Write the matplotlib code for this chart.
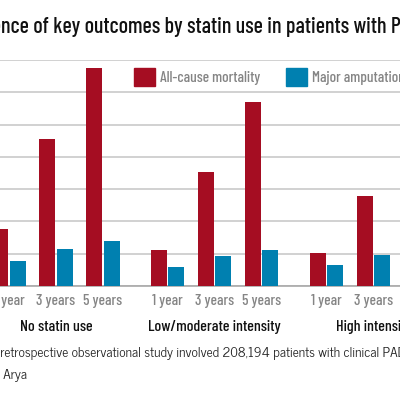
import matplotlib
matplotlib.use("Agg")
import matplotlib.pyplot as plt
from matplotlib.patches import Rectangle
import numpy as np

groups = ["No statin use", "Low/moderate intensity", "High intensity"]
years = ["1 year", "3 years", "5 years"]
mortality = [[8.9, 22.8, 33.8], [5.6, 17.6, 28.5], [5.1, 13.9, 22.0]]
amputation = [[3.9, 5.7, 6.9], [3.0, 4.6, 5.6], [3.2, 4.8, 5.6]]
series_names = ["All-cause mortality", "Major amputation"]
title = "Incidence of key outcomes by statin use in patients with PAD"
note = "Note: The retrospective observational study involved 208,194 patients with clinical PAD."
source = "Source: Dr. Arya"

RED = "#A50D22"
BLUE = "#0080B0"
COND = ["Barlow Condensed", "Roboto Condensed", "DejaVu Sans"]
BODY = ["News Cycle", "DejaVu Sans"]
plt.rcParams["font.family"] = COND

W = H = 400
fig = plt.figure(figsize=(4, 4), dpi=100)
renderer = fig.canvas.get_renderer()


def fit(sample, target_px, **kw):
    t = fig.text(0, 0, sample, fontsize=10, **kw)
    w = t.get_window_extent(renderer).width
    t.remove()
    return 10 * target_px / w


def width(sample, **kw):
    t = fig.text(0, 0, sample, **kw)
    w = t.get_window_extent(renderer).width
    t.remove()
    return w


def ypx(y):
    return (H - y) / H


# axes (the picture is a crop of a wider chart)
base_px, top_px = 286, 60
ax = fig.add_axes([0, ypx(base_px), 1, (base_px - top_px) / H])
slot = 47.0
G = 158.7 / slot
x0 = 9.0
ax.set_xlim(-x0 / slot, (W - x0) / slot)
ax.set_ylim(0, 35)

bw = 16.0 / slot
gap = 1.5 / slot
for g in range(len(groups)):
    for j in range(len(years)):
        c = g * G + j
        ax.bar(c - gap / 2 - bw / 2, mortality[g][j], width=bw, color=RED, zorder=3)
        ax.bar(c + gap / 2 + bw / 2, amputation[g][j], width=bw, color=BLUE, zorder=3)

ax.set_yticks(np.arange(0, 36, 5))
ax.yaxis.grid(True, color="#CACACA", linewidth=1.2)
ax.set_axisbelow(True)
ax.tick_params(left=False, labelleft=False, bottom=False, labelbottom=False)
for s in ["left", "right", "top"]:
    ax.spines[s].set_visible(False)
ax.spines["bottom"].set_color("#A8A8A8")
ax.spines["bottom"].set_linewidth(1.2)

# category tick labels and group labels
fs_tick = fit("3 years", 39, weight="medium")
fs_group = fit("No statin use", 73, weight="medium")
for g in range(len(groups)):
    for j in range(len(years)):
        c = g * G + j
        xf = (x0 + c * slot) / W
        fig.text(xf, ypx(305), years[j], ha="center", va="baseline",
                 fontsize=fs_tick, weight="medium", color="#858585")
    xf = (x0 + (g * G + 1) * slot) / W
    fig.text(xf, ypx(330.7), groups[g], ha="center", va="baseline",
             fontsize=fs_group, weight="medium", color="#111111")

# legend
fs_leg = fit("All-cause mortality", 100, weight="medium")
for lx, col, name in [(133.5, RED, series_names[0]), (285.7, BLUE, series_names[1])]:
    fig.patches.append(Rectangle((lx / W, ypx(86)), 21 / W, 18.3 / H,
                                 transform=fig.transFigure, color=col))
    fig.text((lx + 26) / W, ypx(81.7), name, ha="left", va="baseline",
             fontsize=fs_leg, weight="medium", color="#858585")

# title and note (left part cropped off as in the reference)
fs_title = fit("nce of key outcomes by statin use in patients with", 385, weight="medium")
pre = width("Incide", fontsize=fs_title, weight="medium")
fig.text((1 - pre) / W, ypx(33.3), title, ha="left", va="baseline",
         fontsize=fs_title, weight="medium", color="#111111")

fs_note = fit("retrospective observational", 141, family=BODY)
pre = width("Note: The ", fontsize=fs_note, family=BODY)
fig.text((0 - pre) / W, ypx(356.7), note, ha="left", va="baseline",
         fontsize=fs_note, family=BODY, color="#222222")
pre = width("Source: Dr. ", fontsize=fs_note, family=BODY)
fig.text((3 - pre) / W, ypx(379.3), source, ha="left", va="baseline",
         fontsize=fs_note, family=BODY, color="#222222")

fig.savefig("out.png", dpi=100)
